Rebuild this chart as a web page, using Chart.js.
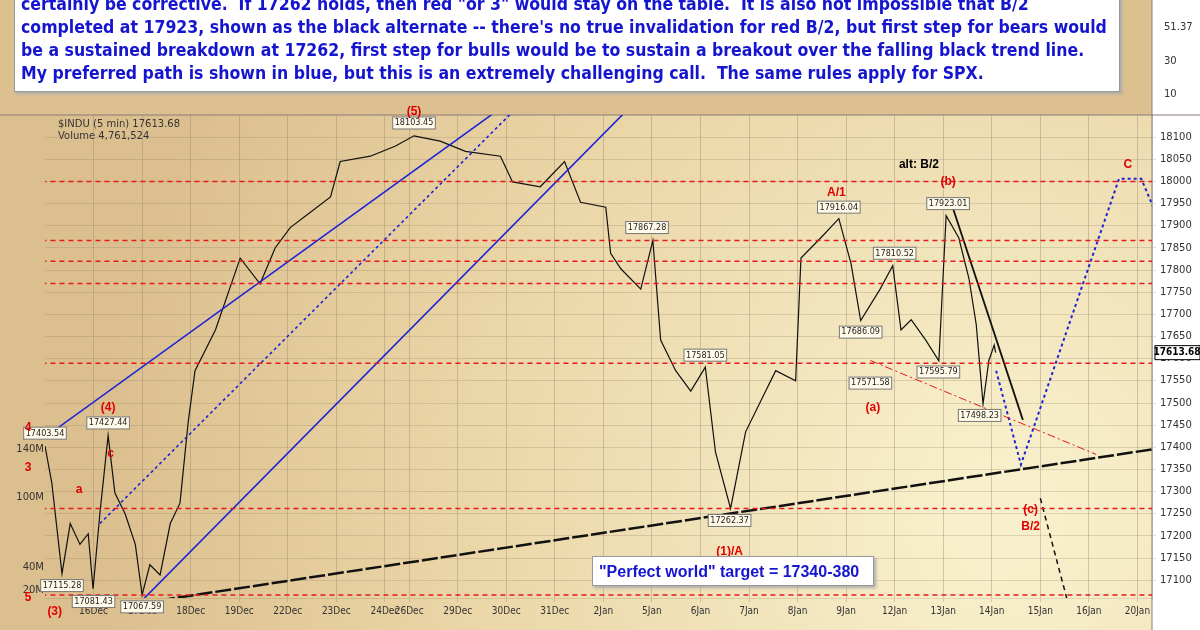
<!DOCTYPE html>
<html>
<head>
<meta charset="utf-8">
<script src="https://cdn.jsdelivr.net/npm/chart.js@4"></script>
<style>
  html, body { margin: 0; padding: 0; background: #fff; }
  #wrap { position: relative; width: 1200px; height: 630px; }
  #note {
    position: absolute; left: 14px; top: -8px; width: 1106px; height: 100px;
    background: #fff; border: 1px solid #999; box-shadow: 2px 2px 3px #aaa;
    font: bold 17.5px "Liberation Sans Narrow", "DejaVu Sans Condensed", Arial, sans-serif;
    color: #1515d0; line-height: 23px; padding: 0 0 0 6px; box-sizing: border-box; overflow: hidden;
  }
  #target {
    position: absolute; left: 592px; top: 556px; width: 282px; height: 30px;
    background: #fff; border: 1px solid #999; box-shadow: 2px 2px 3px #aaa;
    font: bold 16px "Liberation Sans Narrow", Arial, sans-serif; color: #1515d0;
    line-height: 30px; padding-left: 6px; box-sizing: border-box;
  }
</style>
</head>
<body>
<div id="wrap">
  <canvas id="chart" width="1200" height="630"></canvas>
  <div id="note">
    certainly be corrective.&nbsp; If 17262 holds, then red "or 3" would stay on the table.&nbsp; It is also not impossible that B/2<br>
    completed at 17923, shown as the black alternate -- there's no true invalidation for red B/2, but first step for bears would<br>
    be a sustained breakdown at 17262, first step for bulls would be to sustain a breakout over the falling black trend line.<br>
    My preferred path is shown in blue, but this is an extremely challenging call.&nbsp; The same rules apply for SPX.
  </div>
  <div id="target">"Perfect world" target = 17340-380</div>
</div>
<script>
// session index (x) and price (y) of the 5-min $INDU path
const priceX = [0, 0.14, 0.35, 0.52, 0.72, 0.89, 0.99, 1.13, 1.3, 1.44, 1.65, 1.86, 2.0, 2.16, 2.37, 2.58, 2.78, 2.95, 3.09, 3.51, 4.02, 4.43, 4.74, 5.05, 5.46, 5.88, 6.08, 6.7, 7.22, 7.6, 8.14, 8.66, 9.38, 9.63, 10.2, 10.7, 11.03, 11.55, 11.65, 11.86, 12.27, 12.52, 12.68, 12.99, 13.3, 13.6, 13.81, 14.12, 14.43, 14.74, 15.05, 15.46, 15.57, 15.98, 16.35, 16.6, 16.8, 17.2, 17.46, 17.63, 17.84, 18.14, 18.41, 18.56, 18.82, 19.03, 19.18, 19.32, 19.44, 19.55, 19.58];
const priceY = [17403, 17320, 17115, 17228, 17181, 17205, 17081, 17250, 17427, 17297, 17250, 17181, 17067, 17135, 17112, 17228, 17274, 17458, 17573, 17665, 17827, 17769, 17850, 17896, 17930, 17965, 18045, 18057, 18080, 18103, 18091, 18068, 18057, 17999, 17988, 18045, 17953, 17942, 17838, 17803, 17757, 17867, 17642, 17573, 17527, 17581, 17389, 17262, 17435, 17504, 17573, 17550, 17827, 17873, 17916, 17815, 17686, 17757, 17810, 17665, 17688, 17642, 17595, 17923, 17873, 17781, 17677, 17498, 17596, 17631, 17613.68];

// day labels and their session index
const dayTicks = [1, 2, 3, 4, 5, 6, 7, 7.5, 8.5, 9.5, 10.5, 11.5, 12.5, 13.5, 14.5, 15.5, 16.5, 17.5, 18.5, 19.5, 20.5, 21.5, 22.5];
const dayLabels = ["16Dec", "17Dec", "18Dec", "19Dec", "22Dec", "23Dec", "24Dec", "26Dec", "29Dec", "30Dec", "31Dec", "2Jan", "5Jan", "6Jan", "7Jan", "8Jan", "9Jan", "12Jan", "13Jan", "14Jan", "15Jan", "16Jan", "20Jan"];

// red dashed horizontal levels
const levels = [18000, 17867, 17820, 17770, 17590, 17262, 17067];

// overlay lines: [x0, y0, x1, y1]
const channelLow = [1.96, 17050, 11.96, 18158];
const channelHigh = [0, 17423, 10.2, 18230];
const channelMid = [1.13, 17228, 10.3, 18230];
const longTrend = [1.96, 17048, 23.8, 17412];
const fallingTrend = [18.66, 17953, 20.14, 17462];
const redTrend = [17.0, 17596, 21.65, 17384];
const altDown = [20.5, 17285, 21.25, 16974];
const bluePathX = [19.59, 20.1, 22.12, 22.58, 23.8];
const bluePathY = [17573, 17361, 18006, 18006, 17688];

// price labels in boxes: [x, y, text]
const boxLabels = [
  [0.0, 17432, "17403.54"], [1.3, 17455, "17427.44"], [7.6, 18132, "18103.45"],
  [12.4, 17896, "17867.28"], [13.6, 17608, "17581.05"], [16.35, 17942, "17916.04"],
  [17.5, 17838, "17810.52"], [18.6, 17950, "17923.01"], [0.35, 17088, "17115.28"],
  [1.0, 17052, "17081.43"], [2.0, 17040, "17067.59"], [14.1, 17235, "17262.37"],
  [16.8, 17660, "17686.09"], [17.0, 17545, "17571.58"], [18.4, 17570, "17595.79"],
  [19.25, 17472, "17498.23"]
];
// wave labels: [x, y, text, colour]
const waveLabels = [
  [7.6, 18158, "(5)", "#e00000"], [1.3, 17490, "(4)", "#e00000"], [14.1, 17165, "(1)/A", "#e00000"],
  [16.3, 17975, "A/1", "#e00000"], [18.6, 18000, "(b)", "#e00000"], [18.0, 18037, "alt: B/2", "#000"],
  [17.05, 17490, "(a)", "#e00000"], [20.3, 17260, "(c)", "#e00000"], [20.3, 17220, "B/2", "#e00000"],
  [22.3, 18037, "C", "#e00000"], [0.7, 17305, "a", "#e00000"], [1.35, 17385, "c", "#e00000"],
  [-0.35, 17060, "5", "#e00000"], [0.2, 17030, "(3)", "#e00000"], [-0.35, 17445, "4", "#e00000"],
  [-0.35, 17355, "3", "#e00000"]
];

const seg = (a) => [{x: a[0], y: a[1]}, {x: a[2], y: a[3]}];
const pts = (xs, ys) => xs.map((x, i) => ({x: x, y: ys[i]}));
const line = (data, color, width, dash) => ({
  type: 'line', data: data, borderColor: color, borderWidth: width, borderDash: dash || [],
  pointRadius: 0, tension: 0, fill: false
});

const datasets = [];
levels.forEach(v => datasets.push(line(seg([-1, v, 24, v]), '#e8191d', 1.5, [5, 4])));
datasets.push(line(seg(channelLow), '#1d24d6', 1.6));
datasets.push(line(seg(channelHigh), '#1d24d6', 1.6));
datasets.push(line(seg(channelMid), '#1d24d6', 1.6, [3, 3]));
datasets.push(line(seg(redTrend), '#e8191d', 1, [8, 3, 2, 3]));
datasets.push(line(pts(priceX, priceY), '#111', 1.2));
datasets.push(line(seg(longTrend), '#111', 2.5, [16, 3]));
datasets.push(line(seg(fallingTrend), '#111', 1.8));
datasets.push(line(seg(altDown), '#111', 1.5, [5, 4]));
datasets.push(line(pts(bluePathX, bluePathY), '#1d24d6', 2, [3, 3]));

const decor = {
  id: 'decor',
  beforeDraw(chart) {
    const {ctx, chartArea: a} = chart;
    ctx.save();
    const g = ctx.createRadialGradient(a.right - 150, a.bottom - 80, 40, a.right - 150, a.bottom - 80, 900);
    g.addColorStop(0, '#f8f0cc');
    g.addColorStop(0.6, '#ead5a6');
    g.addColorStop(1, '#dcbf8e');
    ctx.fillStyle = g;
    ctx.fillRect(0, 0, a.right, 630);
    ctx.fillStyle = '#dcc08f';
    ctx.fillRect(0, 0, a.right, a.top);
    ctx.strokeStyle = '#8a7a7a';
    ctx.lineWidth = 1;
    ctx.beginPath(); ctx.moveTo(0, a.top); ctx.lineTo(a.right + 50, a.top); ctx.stroke();
    ctx.beginPath(); ctx.moveTo(a.right, 0); ctx.lineTo(a.right, 630); ctx.stroke();
    ctx.fillStyle = '#333';
    ctx.font = '10px "DejaVu Sans"';
    ctx.fillText('$INDU (5 min) 17613.68', 58, a.top + 12);
    ctx.fillText('Volume 4,761,524', 58, a.top + 24);
    ctx.textAlign = 'left';
    ctx.fillText('51.37', a.right + 12, 30);
    ctx.fillText('30', a.right + 12, 64);
    ctx.fillText('10', a.right + 12, 97);
    ['140M', '100M', '40M', '20M'].forEach((t, i) => {
      ctx.textAlign = 'right';
      ctx.fillText(t, 44, [452, 500, 570, 593][i]);
    });
    ctx.restore();
  },
  afterDatasetsDraw(chart) {
    const {ctx} = chart;
    const xs = chart.scales.x, ys = chart.scales.y;
    ctx.save();
    ctx.font = '9px "DejaVu Sans Condensed"';
    ctx.textAlign = 'center';
    ctx.textBaseline = 'middle';
    boxLabels.forEach(([x, y, t]) => {
      const px = xs.getPixelForValue(x), py = ys.getPixelForValue(y);
      const w = ctx.measureText(t).width + 4;
      ctx.fillStyle = '#fffbe8'; ctx.strokeStyle = '#777';
      ctx.fillRect(px - w / 2, py - 6, w, 12); ctx.strokeRect(px - w / 2, py - 6, w, 12);
      ctx.fillStyle = '#222'; ctx.fillText(t, px, py);
    });
    ctx.font = 'bold 12px "Liberation Sans"';
    waveLabels.forEach(([x, y, t, c]) => {
      ctx.fillStyle = c;
      ctx.fillText(t, xs.getPixelForValue(x), ys.getPixelForValue(y));
    });
    // last price tag
    const py = ys.getPixelForValue(17613.68);
    ctx.font = 'bold 10px "DejaVu Sans Condensed"';
    ctx.fillStyle = '#fff'; ctx.strokeStyle = '#000';
    ctx.fillRect(chart.chartArea.right + 3, py - 7, 45, 14);
    ctx.strokeRect(chart.chartArea.right + 3, py - 7, 45, 14);
    ctx.fillStyle = '#000'; ctx.fillText('17613.68', chart.chartArea.right + 25, py);
    ctx.restore();
  }
};

new Chart(document.getElementById('chart'), {
  type: 'line',
  data: {datasets: datasets},
  options: {
    responsive: false,
    animation: false,
    layout: {padding: {top: 115, left: 45, right: 0, bottom: 0}},
    plugins: {legend: {display: false}, tooltip: {enabled: false}},
    scales: {
      x: {
        type: 'linear', min: 0, max: 22.8,
        afterBuildTicks: (s) => { s.ticks = dayTicks.map(v => ({value: v})); },
        afterFit: (s) => { s.height = 32; },
        ticks: {
          autoSkip: false, maxRotation: 0, color: '#333', font: {size: 10, family: 'DejaVu Sans Condensed'},
          callback: (v) => dayLabels[dayTicks.indexOf(v)]
        },
        grid: {color: 'rgba(140,120,100,0.35)', drawTicks: true, tickLength: 4}
      },
      y: {
        position: 'right', min: 17060, max: 18150,
        afterFit: (s) => { s.width = 48; },
        afterBuildTicks: (s) => {
          const t = [];
          for (let v = 17100; v <= 18100; v += 50) t.push({value: v});
          s.ticks = t;
        },
        ticks: {color: '#333', font: {size: 10, family: 'DejaVu Sans'}, padding: 4, callback: (v) => String(v)},
        grid: {color: 'rgba(140,120,100,0.25)', tickLength: 4}
      }
    }
  },
  plugins: [decor]
});
</script>
</body>
</html>
